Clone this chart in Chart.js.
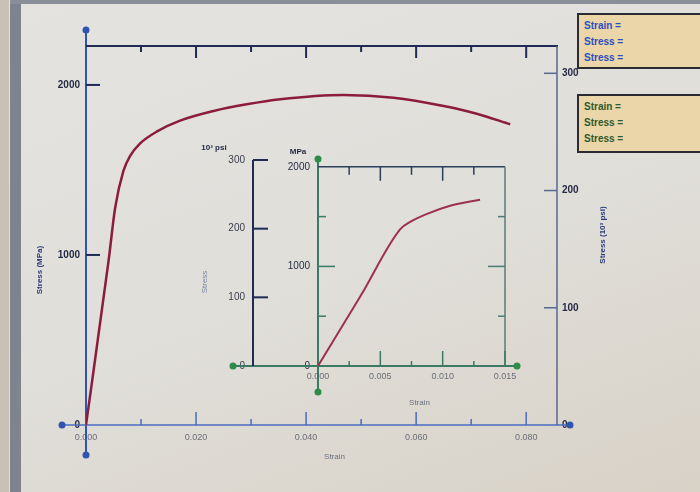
<!DOCTYPE html>
<html>
<head>
<meta charset="utf-8">
<script src="https://cdn.jsdelivr.net/npm/chart.js@4.4.1/dist/chart.umd.min.js"></script>
<style>
  body { margin: 0; }
  #wrap { position: relative; width: 700px; height: 492px; overflow: hidden;
    background: linear-gradient(160deg, #e4e3e0 0%, #e0ded9 55%, #d8d2c7 100%); }
  #edge1 { position: absolute; left: 0; top: 0; width: 9px; height: 492px; background: #c9c1b5; }
  #edge2 { position: absolute; left: 10px; top: 0; width: 11px; height: 492px; background: #7f838e; }
  #edge3 { position: absolute; left: 10px; top: 0; width: 690px; height: 4px; background: #8a8e99; }
  canvas { position: absolute; left: 0; top: 0; }
  .box { position: absolute; left: 577px; width: 130px; height: 56px; background: #ead6a9;
    border: 2px solid #2b2b33; font: bold 10px "Liberation Sans", Arial, sans-serif; line-height: 16px;
    padding: 3px 0 0 5px; box-sizing: border-box; }
  .box.b1 { top: 13px; color: #2b4fbf; }
  .box.b2 { top: 94px; height: 59px; color: #2f5a2f; }
</style>
</head>
<body>
<div id="wrap">
  <div id="edge1"></div><div id="edge2"></div><div id="edge3"></div>
  <canvas id="main" width="700" height="492"></canvas>
  <canvas id="inset" width="700" height="492"></canvas>
  <div class="box b1">Strain =<br>Stress =<br>Stress =</div>
  <div class="box b2">Strain =<br>Stress =<br>Stress =</div>
</div>
<script>
// stress-strain curve, strain vs MPa
const mainStrain = [0, 0.0041, 0.0053, 0.0068, 0.0080, 0.0098, 0.0130, 0.0171, 0.0232, 0.0292, 0.0353, 0.0468, 0.0559, 0.0650, 0.0710, 0.0771];
const mainStress = [0, 965, 1278, 1494, 1582, 1655, 1728, 1790, 1847, 1886, 1916, 1941, 1925, 1876, 1831, 1769];

// zoomed inset (first part of the curve)
const insetStrain = [0, 0.0034, 0.0066, 0.0074, 0.0087, 0.0106, 0.0130];
const insetStress = [0, 700, 1374, 1447, 1525, 1609, 1670];

// tick values and labels
const mainStrainTicks = [0, 0.01, 0.02, 0.03, 0.04, 0.05, 0.06, 0.07, 0.08];
const mainStrainLabels = ['0.000', '', '0.020', '', '0.040', '', '0.060', '', '0.080'];
const mainStressTicks = [0, 1000, 2000];
const mainKsiTicks = [0, 100, 200, 300];
const insetStrainTicks = [0, 0.0025, 0.005, 0.0075, 0.01, 0.0125, 0.015];
const insetStrainLabels = ['0.000', '', '0.005', '', '0.010', '', '0.015'];
const insetStressTicks = [0, 500, 1000, 1500, 2000];
const insetStressLabels = ['0', '', '1000', '', '2000'];
const insetKsiTicks = [0, 100, 200, 300];

const MPA_PER_KSI = 6.894757;
const mainMaxStrain = 0.0856;
const mainMaxStress = 2229;
const insetMaxStrain = 0.015;
const insetMaxKsi = 300;

const FONT = '"Liberation Sans", Arial, sans-serif';
const BLUE = '#2f55b0';
const NAVY = '#1f2a55';
const GREEN = '#3a7a66';
const RED = '#8c1c3c';

function line(ctx, x1, y1, x2, y2, color, w) {
  ctx.save();
  ctx.strokeStyle = color;
  ctx.lineWidth = w;
  ctx.beginPath();
  ctx.moveTo(x1, y1);
  ctx.lineTo(x2, y2);
  ctx.stroke();
  ctx.restore();
}

function dot(ctx, x, y, color) {
  ctx.save();
  ctx.fillStyle = color;
  ctx.beginPath();
  ctx.arc(x, y, 3.5, 0, Math.PI * 2);
  ctx.fill();
  ctx.restore();
}

function text(ctx, str, x, y, font, color, rot) {
  ctx.save();
  ctx.font = font;
  ctx.fillStyle = color;
  ctx.textAlign = 'center';
  ctx.textBaseline = 'middle';
  ctx.translate(x, y);
  if (rot) ctx.rotate(rot);
  ctx.fillText(str, 0, 0);
  ctx.restore();
}

const setTicks = values => scale => { scale.ticks = values.map(v => ({ value: v })); };
const isStep = (v, step) => Math.abs(v / step - Math.round(v / step)) < 1e-6;

const mainDeco = {
  id: 'mainDeco',
  beforeDatasetsDraw(chart) {
    const { ctx, chartArea: a } = chart;
    const { x, y, yR } = chart.scales;
    const x0 = x.getPixelForValue(0), y0 = y.getPixelForValue(0);

    line(ctx, x0, a.top - 16, x0, y0 + 30, BLUE, 2);
    line(ctx, x0 - 24, y0, a.right + 13, y0, '#4a6cc0', 1.5);
    line(ctx, x0, a.top, a.right + 1, a.top, NAVY, 2);
    line(ctx, a.right, a.top, a.right, y0, '#56698f', 1.5);

    x.ticks.forEach(t => {
      if (t.value === 0) return;
      const px = x.getPixelForValue(t.value);
      const major = isStep(t.value, 0.02);
      line(ctx, px, y0, px, y0 - (major ? 13 : 6), '#4a6cc0', 1.5);
      line(ctx, px, a.top, px, a.top + (major ? 12 : 6), NAVY, 2);
    });
    y.ticks.forEach(t => {
      if (t.value === 0) return;
      const py = y.getPixelForValue(t.value);
      line(ctx, x0, py, x0 + 14, py, NAVY, 2);
    });
    yR.ticks.forEach(t => {
      if (t.value === 0) return;
      const py = yR.getPixelForValue(t.value);
      line(ctx, a.right - 13, py, a.right, py, '#56698f', 1.5);
    });

    text(ctx, 'Stress (MPa)', 40, 270, 'bold 8px ' + FONT, '#2a3a7a', -Math.PI / 2);
    text(ctx, 'Stress (10³ psi)', 603, 235, 'bold 8px ' + FONT, '#2a3a7a', -Math.PI / 2);
    text(ctx, 'Strain', (x0 + a.right) / 2 + 13, 457, '8px ' + FONT, '#6a6e80');
  },
  afterDraw(chart) {
    const { ctx, chartArea: a } = chart;
    const { x, y } = chart.scales;
    const x0 = x.getPixelForValue(0), y0 = y.getPixelForValue(0);
    dot(ctx, x0, a.top - 16, BLUE);
    dot(ctx, x0, y0 + 30, BLUE);
    dot(ctx, x0 - 24, y0, BLUE);
    dot(ctx, a.right + 13, y0, BLUE);
  }
};

new Chart(document.getElementById('main'), {
  type: 'line',
  data: {
    datasets: [{
      data: mainStrain.map((v, i) => ({ x: v, y: mainStress[i] })),
      borderColor: RED,
      borderWidth: 2.5,
      pointRadius: 0,
      cubicInterpolationMode: 'monotone',
      fill: false
    }]
  },
  options: {
    responsive: false,
    animation: false,
    events: [],
    layout: { padding: { top: 46, left: 0, right: 0, bottom: 0 } },
    plugins: { legend: { display: false }, tooltip: { enabled: false } },
    scales: {
      x: {
        type: 'linear', min: 0, max: mainMaxStrain,
        grid: { display: false, drawTicks: false }, border: { display: false },
        afterBuildTicks: setTicks(mainStrainTicks),
        ticks: {
          autoSkip: false, maxRotation: 0, padding: 7, color: '#6c6e78', font: { size: 9, family: FONT },
          callback: (v, i) => mainStrainLabels[i]
        },
        afterFit: s => { s.height = 67; }
      },
      y: {
        position: 'left', min: 0, max: mainMaxStress,
        grid: { display: false, drawTicks: false }, border: { display: false },
        afterBuildTicks: setTicks(mainStressTicks),
        ticks: { autoSkip: false, padding: 6, color: '#262b44', font: { size: 10, weight: 'bold', family: FONT }, callback: v => String(v) },
        afterFit: s => { s.width = 86; }
      },
      yR: {
        position: 'right', min: 0, max: mainMaxStress / MPA_PER_KSI,
        grid: { display: false, drawTicks: false }, border: { display: false },
        afterBuildTicks: setTicks(mainKsiTicks),
        ticks: { autoSkip: false, padding: 5, color: '#262b44', font: { size: 10, weight: 'bold', family: FONT }, callback: v => String(v) },
        afterFit: s => { s.width = 143; }
      }
    }
  },
  plugins: [mainDeco]
});

const insetDeco = {
  id: 'insetDeco',
  beforeDatasetsDraw(chart) {
    const { ctx, chartArea: a } = chart;
    const { xi, yi, yp } = chart.scales;
    const x0 = xi.getPixelForValue(0), y0 = yi.getPixelForValue(0);
    const yTop = yi.getPixelForValue(2000);
    const xP = yp.right;

    line(ctx, x0, a.top - 1, x0, y0 + 26, GREEN, 2);
    line(ctx, xP - 20, y0, a.right + 12, y0, GREEN, 2);
    line(ctx, xP, yp.getPixelForValue(300), xP, y0, NAVY, 2);
    line(ctx, x0, yTop, a.right, yTop, '#2a3f5a', 1.5);
    line(ctx, a.right, yTop, a.right, y0, '#5c7a78', 1.5);

    xi.ticks.forEach(t => {
      if (t.value === 0) return;
      const px = xi.getPixelForValue(t.value);
      const major = isStep(t.value, 0.005);
      line(ctx, px, y0, px, y0 - (major ? 15 : 5), GREEN, 1.5);
      if (t.value < insetMaxStrain - 1e-9) line(ctx, px, yTop, px, yTop + (major ? 14 : 8), '#2a3f5a', 1.5);
    });
    yi.ticks.forEach(t => {
      if (t.value === 0 || t.value >= 2000) return;
      const py = yi.getPixelForValue(t.value);
      const major = isStep(t.value, 1000);
      line(ctx, x0, py, x0 + (major ? 17 : 8), py, GREEN, 1.5);
      line(ctx, a.right - (major ? 17 : 7), py, a.right, py, '#4f7a78', 1.5);
    });
    yp.ticks.forEach(t => {
      if (t.value === 0) return;
      const py = yp.getPixelForValue(t.value);
      line(ctx, xP, py, xP + 15, py, NAVY, 2);
    });

    text(ctx, '10³ psi', 214, 148, 'bold 8px ' + FONT, '#1f2640');
    text(ctx, 'MPa', 298, 152, 'bold 8px ' + FONT, '#1f2640');
    text(ctx, 'Stress', 205, 282, '8px ' + FONT, '#7a86a8', -Math.PI / 2);
    text(ctx, 'Strain', (x0 + a.right) / 2 + 8, 403, '8px ' + FONT, '#6a6e80');
  },
  afterDraw(chart) {
    const { ctx, chartArea: a } = chart;
    const { xi, yi, yp } = chart.scales;
    const x0 = xi.getPixelForValue(0), y0 = yi.getPixelForValue(0);
    dot(ctx, x0, a.top - 1, '#2e8b4a');
    dot(ctx, x0, y0 + 26, '#2e8b4a');
    dot(ctx, yp.right - 20, y0, '#2e8b4a');
    dot(ctx, a.right + 12, y0, '#2e8b4a');
  }
};

new Chart(document.getElementById('inset'), {
  type: 'line',
  data: {
    datasets: [{
      data: insetStrain.map((v, i) => ({ x: v, y: insetStress[i] })),
      borderColor: '#9c3050',
      borderWidth: 2,
      pointRadius: 0,
      cubicInterpolationMode: 'monotone',
      fill: false,
      yAxisID: 'yi',
      xAxisID: 'xi'
    }]
  },
  options: {
    responsive: false,
    animation: false,
    events: [],
    layout: { padding: { top: 160, left: 0, right: 195, bottom: 0 } },
    plugins: { legend: { display: false }, tooltip: { enabled: false } },
    scales: {
      xi: {
        type: 'linear', position: 'bottom', min: 0, max: insetMaxStrain,
        grid: { display: false, drawTicks: false }, border: { display: false },
        afterBuildTicks: setTicks(insetStrainTicks),
        ticks: {
          autoSkip: false, maxRotation: 0, padding: 5, color: '#6c6e78', font: { size: 9, family: FONT },
          callback: (v, i) => insetStrainLabels[i]
        },
        afterFit: s => { s.height = 126; }
      },
      yp: {
        position: 'left', weight: 2, min: 0, max: insetMaxKsi,
        grid: { display: false, drawTicks: false }, border: { display: false },
        afterBuildTicks: setTicks(insetKsiTicks),
        ticks: { autoSkip: false, padding: 8, color: '#3a3d4a', font: { size: 10, family: FONT } },
        afterFit: s => { s.width = 253; }
      },
      yi: {
        position: 'left', weight: 1, min: 0, max: insetMaxKsi * MPA_PER_KSI,
        grid: { display: false, drawTicks: false }, border: { display: false },
        afterBuildTicks: setTicks(insetStressTicks),
        ticks: {
          autoSkip: false, padding: 8, color: '#262b44', font: { size: 10, family: FONT },
          callback: (v, i) => insetStressLabels[i]
        },
        afterFit: s => { s.width = 65; }
      }
    }
  },
  plugins: [insetDeco]
});
</script>
</body>
</html>
